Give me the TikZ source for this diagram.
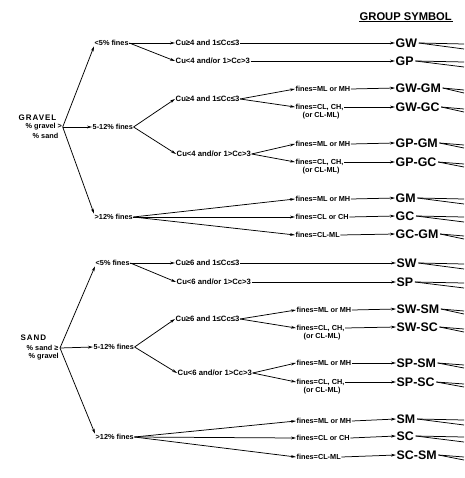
\documentclass[tikz,border=0pt]{standalone}
\usepackage{fontspec}
\setmainfont{Liberation Sans}
\usetikzlibrary{arrows.meta}
\begin{document}
\begin{tikzpicture}[x=1pt,y=-1pt,
  every node/.style={inner sep=0.5pt,anchor=west},
  lbl/.style={font=\fontsize{7.3}{8}\selectfont\bfseries},
  cu/.style={font=\fontsize{7.7}{8}\selectfont\bfseries},
  sym/.style={font=\fontsize{12.4}{13}\selectfont\bfseries},
  head/.style={font=\fontsize{8}{9}\selectfont\bfseries\addfontfeature{LetterSpace=12}},
  arr/.style={line width=0.75pt,-{Stealth[length=5pt,width=2.8pt]}},
  ln/.style={line width=0.75pt}]
\useasboundingbox (0,0) rectangle (464,478);

% heading
\node[font=\fontsize{11.2}{12}\selectfont\bfseries] (hd) at (359,17) {GROUP SYMBOL};
\draw[line width=0.9pt] (hd.south west) -- (hd.south east);

% ---------------- GRAVEL ----------------
\node[head] (gr1) at (18,118) {GRAVEL};
\node[lbl] (gr2) at (25,127) {\% gravel >};
\node[lbl] (gr3) at (32,136) {\% sand};

\node[lbl] (g5)   at (94,43)  {<5\% fines};
\node[lbl] (g512) at (92,127) {5-12\% fines};
\node[lbl] (g12)  at (94,217) {>12\% fines};

\node[cu] (ga1) at (175,43)  {Cu≥4 and 1≤Cc≤3};
\node[cu] (ga2) at (175,61)  {Cu<4 and/or 1>Cc>3};
\node[cu] (gb1) at (175,99)  {Cu≥4 and 1≤Cc≤3};
\node[cu] (gb2) at (176,154) {Cu<4 and/or 1>Cc>3};

\node[lbl] (gf1)  at (295,89)  {fines=ML or MH};
\node[lbl] (gf2)  at (295,107) {fines=CL, CH,};
\node[lbl] (gf2b) at (302,116) {(or CL-ML)};
\node[lbl] (gf3)  at (295,144) {fines=ML or MH};
\node[lbl] (gf4)  at (295,162) {fines=CL, CH,};
\node[lbl] (gf4b) at (302,171) {(or CL-ML)};
\node[lbl] (gf5)  at (295,199) {fines=ML or MH};
\node[lbl] (gf6)  at (295,217) {fines=CL or CH};
\node[lbl] (gf7)  at (295,235) {fines=CL-ML};

\node[sym] (GW)   at (395,43)  {GW};
\node[sym] (GP)   at (395,61)  {GP};
\node[sym] (GWGM) at (395,88)  {GW-GM};
\node[sym] (GWGC) at (395,107) {GW-GC};
\node[sym] (GPGM) at (395,143) {GP-GM};
\node[sym] (GPGC) at (395,162) {GP-GC};
\node[sym] (GM)   at (395,198) {GM};
\node[sym] (GC)   at (395,216) {GC};
\node[sym] (GCGM) at (395,234) {GC-GM};

\draw[arr] (gr2.east) -- (g5.south west);
\draw[arr] (gr2.east) -- (g512.west);
\draw[arr] (gr2.east) -- (g12.north west);

\draw[arr] (g5.east) -- (ga1.west);
\draw[arr] (g5.east) -- (ga2.west);
\draw[arr] (g512.east) -- (gb1.west);
\draw[arr] (g512.east) -- (gb2.west);

\draw[arr] (ga1.east) -- (GW.west);
\draw[arr] (ga2.east) -- (GP.west);

\draw[arr] (gb1.east) -- (gf1.west);
\draw[arr] (gb1.east) -- (gf2.west);
\draw[arr] (gb2.east) -- (gf3.west);
\draw[arr] (gb2.east) -- (gf4.west);
\draw[arr] (g12.east) -- (gf5.west);
\draw[arr] (g12.east) -- (gf6.west);
\draw[arr] (g12.east) -- (gf7.west);

\draw[arr] (gf1.east) -- (GWGM.west);
\draw[arr] (gf2.east) -- (GWGC.west);
\draw[arr] (gf3.east) -- (GPGM.west);
\draw[arr] (gf4.east) -- (GPGC.west);
\draw[arr] (gf5.east) -- (GM.west);
\draw[arr] (gf6.east) -- (GC.west);
\draw[arr] (gf7.east) -- (GCGM.west);

% ---------------- SAND ----------------
\node[head] (sa1) at (20,338) {SAND};
\node[lbl] (sa2) at (26,348) {\% sand ≥};
\node[lbl] (sa3) at (28,357) {\% gravel};

\node[lbl] (s5)   at (95,263) {<5\% fines};
\node[lbl] (s512) at (93,347) {5-12\% fines};
\node[lbl] (s12)  at (95,437) {>12\% fines};

\node[cu] (sa1c) at (175,263) {Cu≥6 and 1≤Cc≤3};
\node[cu] (sa2c) at (176,282) {Cu<6 and/or 1>Cc>3};
\node[cu] (sb1)  at (175,319) {Cu≥6 and 1≤Cc≤3};
\node[cu] (sb2)  at (177,373) {Cu<6 and/or 1>Cc>3};

\node[lbl] (sf1)  at (296,310) {fines=ML or MH};
\node[lbl] (sf2)  at (296,328) {fines=CL, CH,};
\node[lbl] (sf2b) at (303,337) {(or CL-ML)};
\node[lbl] (sf3)  at (296,363) {fines=ML or MH};
\node[lbl] (sf4)  at (296,382) {fines=CL, CH,};
\node[lbl] (sf4b) at (303,391) {(or CL-ML)};
\node[lbl] (sf5)  at (296,421) {fines=ML or MH};
\node[lbl] (sf6)  at (296,438) {fines=CL or CH};
\node[lbl] (sf7)  at (296,457) {fines=CL-ML};

\node[sym] (SW)   at (396,263) {SW};
\node[sym] (SP)   at (396,282) {SP};
\node[sym] (SWSM) at (396,309) {SW-SM};
\node[sym] (SWSC) at (396,327) {SW-SC};
\node[sym] (SPSM) at (396,363) {SP-SM};
\node[sym] (SPSC) at (396,382) {SP-SC};
\node[sym] (SM)   at (396,419) {SM};
\node[sym] (SC)   at (396,436) {SC};
\node[sym] (SCSM) at (396,455) {SC-SM};

\draw[arr] ([xshift=1pt]sa2.east) -- (s5.south west);
\draw[arr] ([xshift=1pt]sa2.east) -- (s512.west);
\draw[arr] ([xshift=1pt]sa2.east) -- (s12.north west);

\draw[arr] (s5.east) -- (sa1c.west);
\draw[arr] (s5.east) -- (sa2c.west);
\draw[arr] (s512.east) -- (sb1.west);
\draw[arr] (s512.east) -- (sb2.west);

\draw[arr] (sa1c.east) -- (SW.west);
\draw[arr] (sa2c.east) -- (SP.west);

\draw[arr] (sb1.east) -- (sf1.west);
\draw[arr] (sb1.east) -- (sf2.west);
\draw[arr] (sb2.east) -- (sf3.west);
\draw[arr] (sb2.east) -- (sf4.west);
\draw[arr] (s12.east) -- (sf5.west);
\draw[arr] (s12.east) -- (sf6.west);
\draw[arr] (s12.east) -- (sf7.west);

\draw[arr] (sf1.east) -- (SWSM.west);
\draw[arr] (sf2.east) -- (SWSC.west);
\draw[arr] (sf3.east) -- (SPSM.west);
\draw[arr] (sf4.east) -- (SPSC.west);
\draw[arr] (sf5.east) -- (SM.west);
\draw[arr] (sf6.east) -- (SC.west);
\draw[arr] (sf7.east) -- (SCSM.west);

% ---------------- lines leaving at the right edge ----------------
\foreach \n/\y/\a/\b in {GW/43/1/6, GP/61/1/6, GWGM/88/2/5, GWGC/107/2/5,
    GPGM/143/2/5, GPGC/162/2/5, GM/198/1/6, GC/216/1/6, GCGM/234/2/5,
    SW/263/1/6, SP/282/1/6, SWSM/309/2/5, SWSC/327/2/5,
    SPSM/363/2/5, SPSC/382/2/5, SM/419/1/6, SC/436/1/6, SCSM/455/2/5}{
  \coordinate (\n-r1) at (464,\y+\a);
  \coordinate (\n-r2) at (464,\y+\b);
  \draw[ln] ([xshift=1pt]\n.east) -- (\n-r1);
  \draw[ln] ([xshift=1pt]\n.east) -- (\n-r2);
}
\end{tikzpicture}
\end{document}
